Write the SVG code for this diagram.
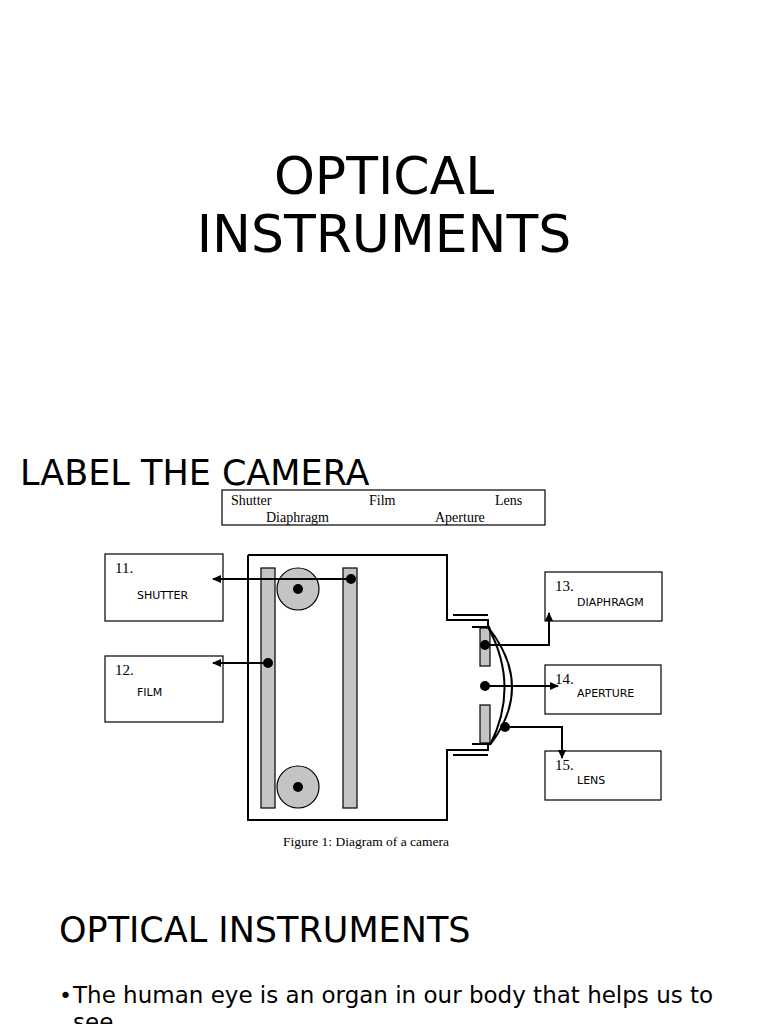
<svg xmlns="http://www.w3.org/2000/svg" width="768" height="1024" viewBox="0 0 768 1024">
<style>
.t{font-family:"DejaVu Sans",sans-serif;fill:#000}
.s{font-family:"Liberation Serif",serif;fill:#000}
.box{fill:#fff;stroke:#000;stroke-width:1.2}
.ln{fill:none;stroke:#000;stroke-width:2}
.g{fill:#c4c4c4;stroke:#000;stroke-width:1.2}
</style>
<defs><marker id="a" markerWidth="9" markerHeight="8" refX="8" refY="4" orient="auto" markerUnits="userSpaceOnUse"><path d="M0,0L9,4L0,8z" fill="#000" stroke="none"/></marker></defs>
<rect width="768" height="1024" fill="#fff"/>
<text class="t" x="384" y="194" font-size="52" text-anchor="middle">OPTICAL</text>
<text class="t" x="384" y="252" font-size="52" text-anchor="middle">INSTRUMENTS</text>
<text class="t" x="20" y="485" font-size="35">LABEL THE CAMERA</text>
<g id="wordbank"><rect class="box" x="222" y="490" width="323" height="35"/>
<text class="s" font-size="14" x="231" y="505">Shutter</text><text class="s" font-size="14" x="369" y="505">Film</text><text class="s" font-size="14" x="495" y="505">Lens</text>
<text class="s" font-size="14" x="266" y="522">Diaphragm</text><text class="s" font-size="14" x="435" y="522">Aperture</text></g>
<g id="camera">
<path class="ln" d="M248,555H447V620H488V627M248,555V820H447V750H488V745"/>
<path class="ln" d="M453,615H488M453,755H488" stroke-width="1.5"/>
<rect class="g" x="261" y="568" width="14" height="240"/>
<rect class="g" x="343" y="568" width="14" height="240"/>
<circle class="g" cx="298" cy="589" r="21"/><circle cx="298" cy="589" r="5"/>
<circle class="g" cx="298" cy="787" r="21"/><circle cx="298" cy="787" r="5"/>
<rect class="g" x="480" y="628" width="10" height="38"/>
<rect class="g" x="480" y="705" width="10" height="38"/>
<path class="ln" d="M472,627H490M472,744H490"/>
<path class="ln" d="M488,627Q535,686 490,745M488,627Q520,686 490,745"/>
</g>
<g id="n11"><rect class="box" x="105" y="554" width="118" height="67"/><text class="s" font-size="15" x="115" y="573">11.</text><text class="t" font-size="11" x="137" y="599">SHUTTER</text></g>
<g id="n12"><rect class="box" x="105" y="656" width="118" height="66"/><text class="s" font-size="15" x="115" y="675">12.</text><text class="t" font-size="11" x="137" y="696">FILM</text></g>
<g id="n13"><rect class="box" x="545" y="572" width="117" height="49"/><text class="s" font-size="15" x="555" y="591">13.</text><text class="t" font-size="11" x="577" y="606">DIAPHRAGM</text></g>
<g id="n14"><rect class="box" x="545" y="665" width="116" height="49"/><text class="s" font-size="15" x="555" y="684">14.</text><text class="t" font-size="11" x="577" y="697">APERTURE</text></g>
<g id="n15"><rect class="box" x="545" y="751" width="116" height="49"/><text class="s" font-size="15" x="555" y="770">15.</text><text class="t" font-size="11" x="577" y="784">LENS</text></g>
<g id="connectors" stroke="#000" stroke-width="2" fill="none">
<path d="M351,579H213" marker-end="url(#a)"/><circle cx="351" cy="579" r="4" fill="#000"/>
<path d="M268,663H213" marker-end="url(#a)"/><circle cx="268" cy="663" r="4" fill="#000"/>
<path d="M485,645H549V613" marker-end="url(#a)"/><circle cx="485" cy="645" r="4" fill="#000"/>
<path d="M485,686H558" marker-end="url(#a)"/><circle cx="485" cy="686" r="4" fill="#000"/>
<path d="M505,727H562V758" marker-end="url(#a)"/><circle cx="505" cy="727" r="4" fill="#000"/>
</g>
<text class="s" font-size="13.5" x="283" y="846">Figure 1: Diagram of a camera</text>
<text class="t" x="59" y="942" font-size="35">OPTICAL INSTRUMENTS</text>
<text class="t" x="59" y="1003" font-size="22">•</text>
<text class="t" x="73" y="1003" font-size="23">The human eye is an organ in our body that helps us to</text>
<text class="t" x="73" y="1030" font-size="23">see.</text>
</svg>
